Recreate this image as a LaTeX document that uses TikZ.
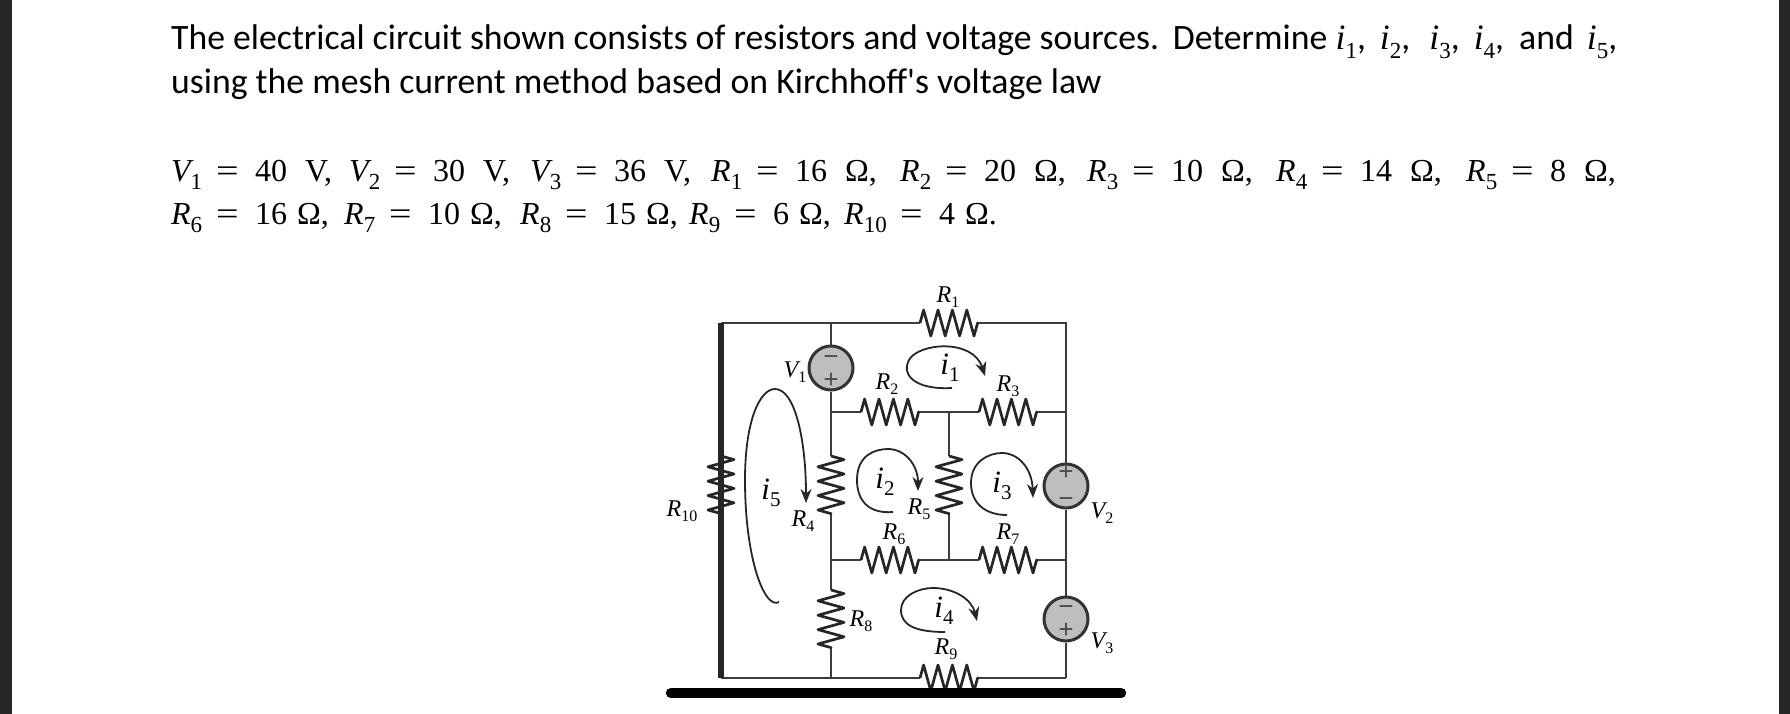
\documentclass[tikz,border=0pt]{standalone}
\usepackage{fontspec}
\setmainfont{Carlito}
\newfontfamily\circfont{Liberation Serif}
\usepackage{tikz}
\usetikzlibrary{arrows.meta, positioning, decorations.pathmorphing}

\definecolor{wirecol}{HTML}{3C3C3C}
\definecolor{sidecol}{HTML}{262626}
\definecolor{srccol}{HTML}{BEBEBE}

% text-size symbols with a subscript
\newcommand{\mv}[2]{{\circfont\itshape #1}\raisebox{-0.25em}{\circfont\fontsize{23}{23}\selectfont #2}}
\newcommand{\rlab}[2]{{\itshape #1}\raisebox{-0.22em}{\fontsize{16}{16}\selectfont #2}}
\newcommand{\ilab}[1]{{\itshape i}\raisebox{-0.22em}{\fontsize{21}{21}\selectfont #1}}
% one term of the value lists: box width, symbol, subscript, value
\newcommand{\eqterm}[5][45pt]{\makebox[#2][l]{\makebox[#1][l]{\mv{#3}{#4}}\makebox[39pt][l]{\scalebox{1.25}[1]{=}}#5}}

\tikzset{
    wire/.style={draw=wirecol, line width=2.5pt},
    mainbar/.style={draw=black!85, line width=5.5pt},
    res/.style={draw=black!85, line width=2.7pt, line join=round, decorate,
        decoration={zigzag, amplitude=13pt, segment length=14.4pt}},
    vsrc/.style={circle, draw=black!80, line width=3pt, fill=srccol, minimum size=44pt, inner sep=0pt},
    polar/.style={inner sep=0pt, font=\circfont\bfseries\fontsize{27}{27}\selectfont, text=black!70},
    meshloop/.style={draw=black!85, line width=1.8pt, -{Stealth[length=14pt,width=11pt]}},
    clab/.style={inner sep=0pt, font=\circfont\fontsize{24}{26}\selectfont},
    ilabel/.style={inner sep=0pt, font=\circfont\fontsize{31}{31}\selectfont},
    txt/.style={anchor=base west, inner sep=0pt, font=\fontsize{35.7}{40}\selectfont},
    eqn/.style={anchor=base west, inner sep=0pt, font=\circfont\fontsize{32}{40}\selectfont}
}

\begin{document}
\begin{tikzpicture}[x=1pt,y=-1pt]
    \useasboundingbox (0,0) rectangle (1790,714);

    % Dark side strips
    \fill[sidecol] (0,0) rectangle (12,714);
    \fill[sidecol] (1779,0) rectangle (1790,714);

    % Question text
    \node[txt] (line1) at (171,50) {The electrical circuit shown consists of resistors and voltage sources. \hspace{3pt}Determine \mv{i}{1}, \hspace{6pt}\mv{i}{2}, \hspace{11pt}\mv{i}{3}, \hspace{6pt}\mv{i}{4}, \hspace{7pt}and \hspace{5pt}\mv{i}{5},};
    \node[txt] (line2) at (171,94) {using the mesh current method based on Kirchhof{}f\textquotesingle s voltage law};
    \node[eqn] (line3) at (171,182) {\eqterm{178pt}{V}{1}{40\hspace{18pt}V,}\eqterm{181pt}{V}{2}{30\hspace{18pt}V,}\eqterm{181pt}{V}{3}{36\hspace{18pt}V,}\eqterm{189pt}{R}{1}{16\hspace{18pt}Ω,}\eqterm{187pt}{R}{2}{20\hspace{18pt}Ω,}\eqterm{189pt}{R}{3}{10\hspace{18pt}Ω,}\eqterm{190pt}{R}{4}{14\hspace{18pt}Ω,}\eqterm{100pt}{R}{5}{8\hspace{18pt}Ω,}};
    \node[eqn] (line4) at (171,225) {\eqterm{173pt}{R}{6}{16\hspace{10pt}Ω,}\eqterm{176pt}{R}{7}{10\hspace{10pt}Ω,}\eqterm{169pt}{R}{8}{15\hspace{10pt}Ω,}\eqterm{155pt}{R}{9}{6\hspace{10pt}Ω,}\eqterm[56pt]{100pt}{R}{10}{4\hspace{10pt}Ω.}};

    % Junctions
    \coordinate (tl) at (721,323);
    \coordinate (tm) at (831,323);
    \coordinate (tr) at (1066,323);
    \coordinate (ml) at (831,412);
    \coordinate (mm) at (949,412);
    \coordinate (mr) at (1066,412);
    \coordinate (ll) at (831,560);
    \coordinate (lm) at (949,560);
    \coordinate (lr) at (1066,560);
    \coordinate (bl) at (721,678);
    \coordinate (bm) at (831,678);
    \coordinate (br) at (1066,678);

    % Resistor ends
    \coordinate (r1a) at (920,323);   \coordinate (r1b) at (978,323);
    \coordinate (r2a) at (861,412);   \coordinate (r2b) at (919,412);
    \coordinate (r3a) at (979,412);   \coordinate (r3b) at (1037,412);
    \coordinate (r4a) at (831,456);   \coordinate (r4b) at (831,514);
    \coordinate (r5a) at (949,456);   \coordinate (r5b) at (949,514);
    \coordinate (r6a) at (861,560);   \coordinate (r6b) at (919,560);
    \coordinate (r7a) at (979,560);   \coordinate (r7b) at (1037,560);
    \coordinate (r8a) at (831,590);   \coordinate (r8b) at (831,648);
    \coordinate (r9a) at (920,678);   \coordinate (r9b) at (978,678);
    \coordinate (r10a) at (721,456);  \coordinate (r10b) at (721,514);

    % Sources
    \node[vsrc] (v1) at (831,368) {};
    \node[vsrc] (v2) at (1066,486) {};
    \node[vsrc] (v3) at (1066,619) {};
    \node[polar] (v1m) at (831,361) {−};
    \node[polar] (v1p) at (831,381) {+};
    \node[polar] (v2p) at (1066,473) {+};
    \node[polar] (v2m) at (1066,503) {−};
    \node[polar] (v3m) at (1066,611) {−};
    \node[polar] (v3p) at (1066,631) {+};

    % Wires
    \draw[wire] (tl) -- (r1a);
    \draw[wire] (r1b) -- (tr) -- (v2);
    \draw[wire] (tm) -- (v1);
    \draw[wire] (v1) -- (r4a);
    \draw[wire] (ml) -- (r2a);
    \draw[wire] (r2b) -- (r3a);
    \draw[wire] (r3b) -- (mr);
    \draw[wire] (mm) -- (r5a);
    \draw[wire] (r4b) -- (r8a);
    \draw[wire] (ll) -- (r6a);
    \draw[wire] (r6b) -- (r7a);
    \draw[wire] (r7b) -- (lr);
    \draw[wire] (r5b) -- (lm);
    \draw[wire] (v2) -- (v3);
    \draw[wire] (v3) -- (br);
    \draw[wire] (br) -- (r9b);
    \draw[wire] (r9a) -- (bl);
    \draw[wire] (r8b) -- (bm);
    \draw[mainbar] (tl) -- (bl);

    % Resistors
    \foreach \ra/\rb in {r1a/r1b, r2a/r2b, r3a/r3b, r4a/r4b, r5a/r5b, r6a/r6b, r7a/r7b, r8a/r8b, r9a/r9b, r10a/r10b}
        \draw[res] (\ra) -- (\rb);

    % Base strip
    \draw[line width=10.5pt, line cap=round] (671,693) -- (1121,693);

    % Mesh currents
    \draw[meshloop] (952,388) .. controls (915,390) and (901,375) .. (909,360) .. controls (918,343) and (973,338) .. (985,376);
    \draw[meshloop] (893,512) .. controls (868,514) and (857,500) .. (857,480) .. controls (857,455) and (875,449) .. (888,449) .. controls (905,449) and (918,465) .. (918,491);
    \draw[meshloop] (1007,515) .. controls (985,515) and (971,503) .. (971,483) .. controls (971,462) and (988,453) .. (1002,453) .. controls (1018,453) and (1032,468) .. (1033,498);
    \draw[meshloop] (945,632) .. controls (915,632) and (901,625) .. (901,610) .. controls (901,596) and (918,588) .. (933,588) .. controls (955,588) and (972,600) .. (977,621);
    \draw[meshloop] (779,602) .. controls (765,610) and (745,560) .. (745,480) .. controls (745,420) and (760,389) .. (775,389) .. controls (795,389) and (806,440) .. (806,503);

    % Labels
    \node[clab] (lr1) at (948,297) {\rlab{R}{1}};
    \node[clab] (lr2) at (887,384) {\rlab{R}{2}};
    \node[clab] (lr3) at (1008,386) {\rlab{R}{3}};
    \node[clab] (lr4) at (803,521) {\rlab{R}{4}};
    \node[clab] (lr5) at (919,509) {\rlab{R}{5}};
    \node[clab] (lr6) at (894,534) {\rlab{R}{6}};
    \node[clab] (lr7) at (1008,534) {\rlab{R}{7}};
    \node[clab] (lr8) at (861,621) {\rlab{R}{8}};
    \node[clab] (lr9) at (946,649) {\rlab{R}{9}};
    \node[clab] (lr10) at (682,511) {\rlab{R}{10}};
    \node[clab] (lv1) at (795,372) {\rlab{V}{1}};
    \node[clab] (lv2) at (1102,513) {\rlab{V}{2}};
    \node[clab] (lv3) at (1102,643) {\rlab{V}{3}};
    \node[ilabel] (li1) at (950,368) {\ilab{1}};
    \node[ilabel] (li2) at (885,482) {\ilab{2}};
    \node[ilabel] (li3) at (1002,486) {\ilab{3}};
    \node[ilabel] (li4) at (944,611) {\ilab{4}};
    \node[ilabel] (li5) at (771,493) {\ilab{5}};
\end{tikzpicture}
\end{document}
